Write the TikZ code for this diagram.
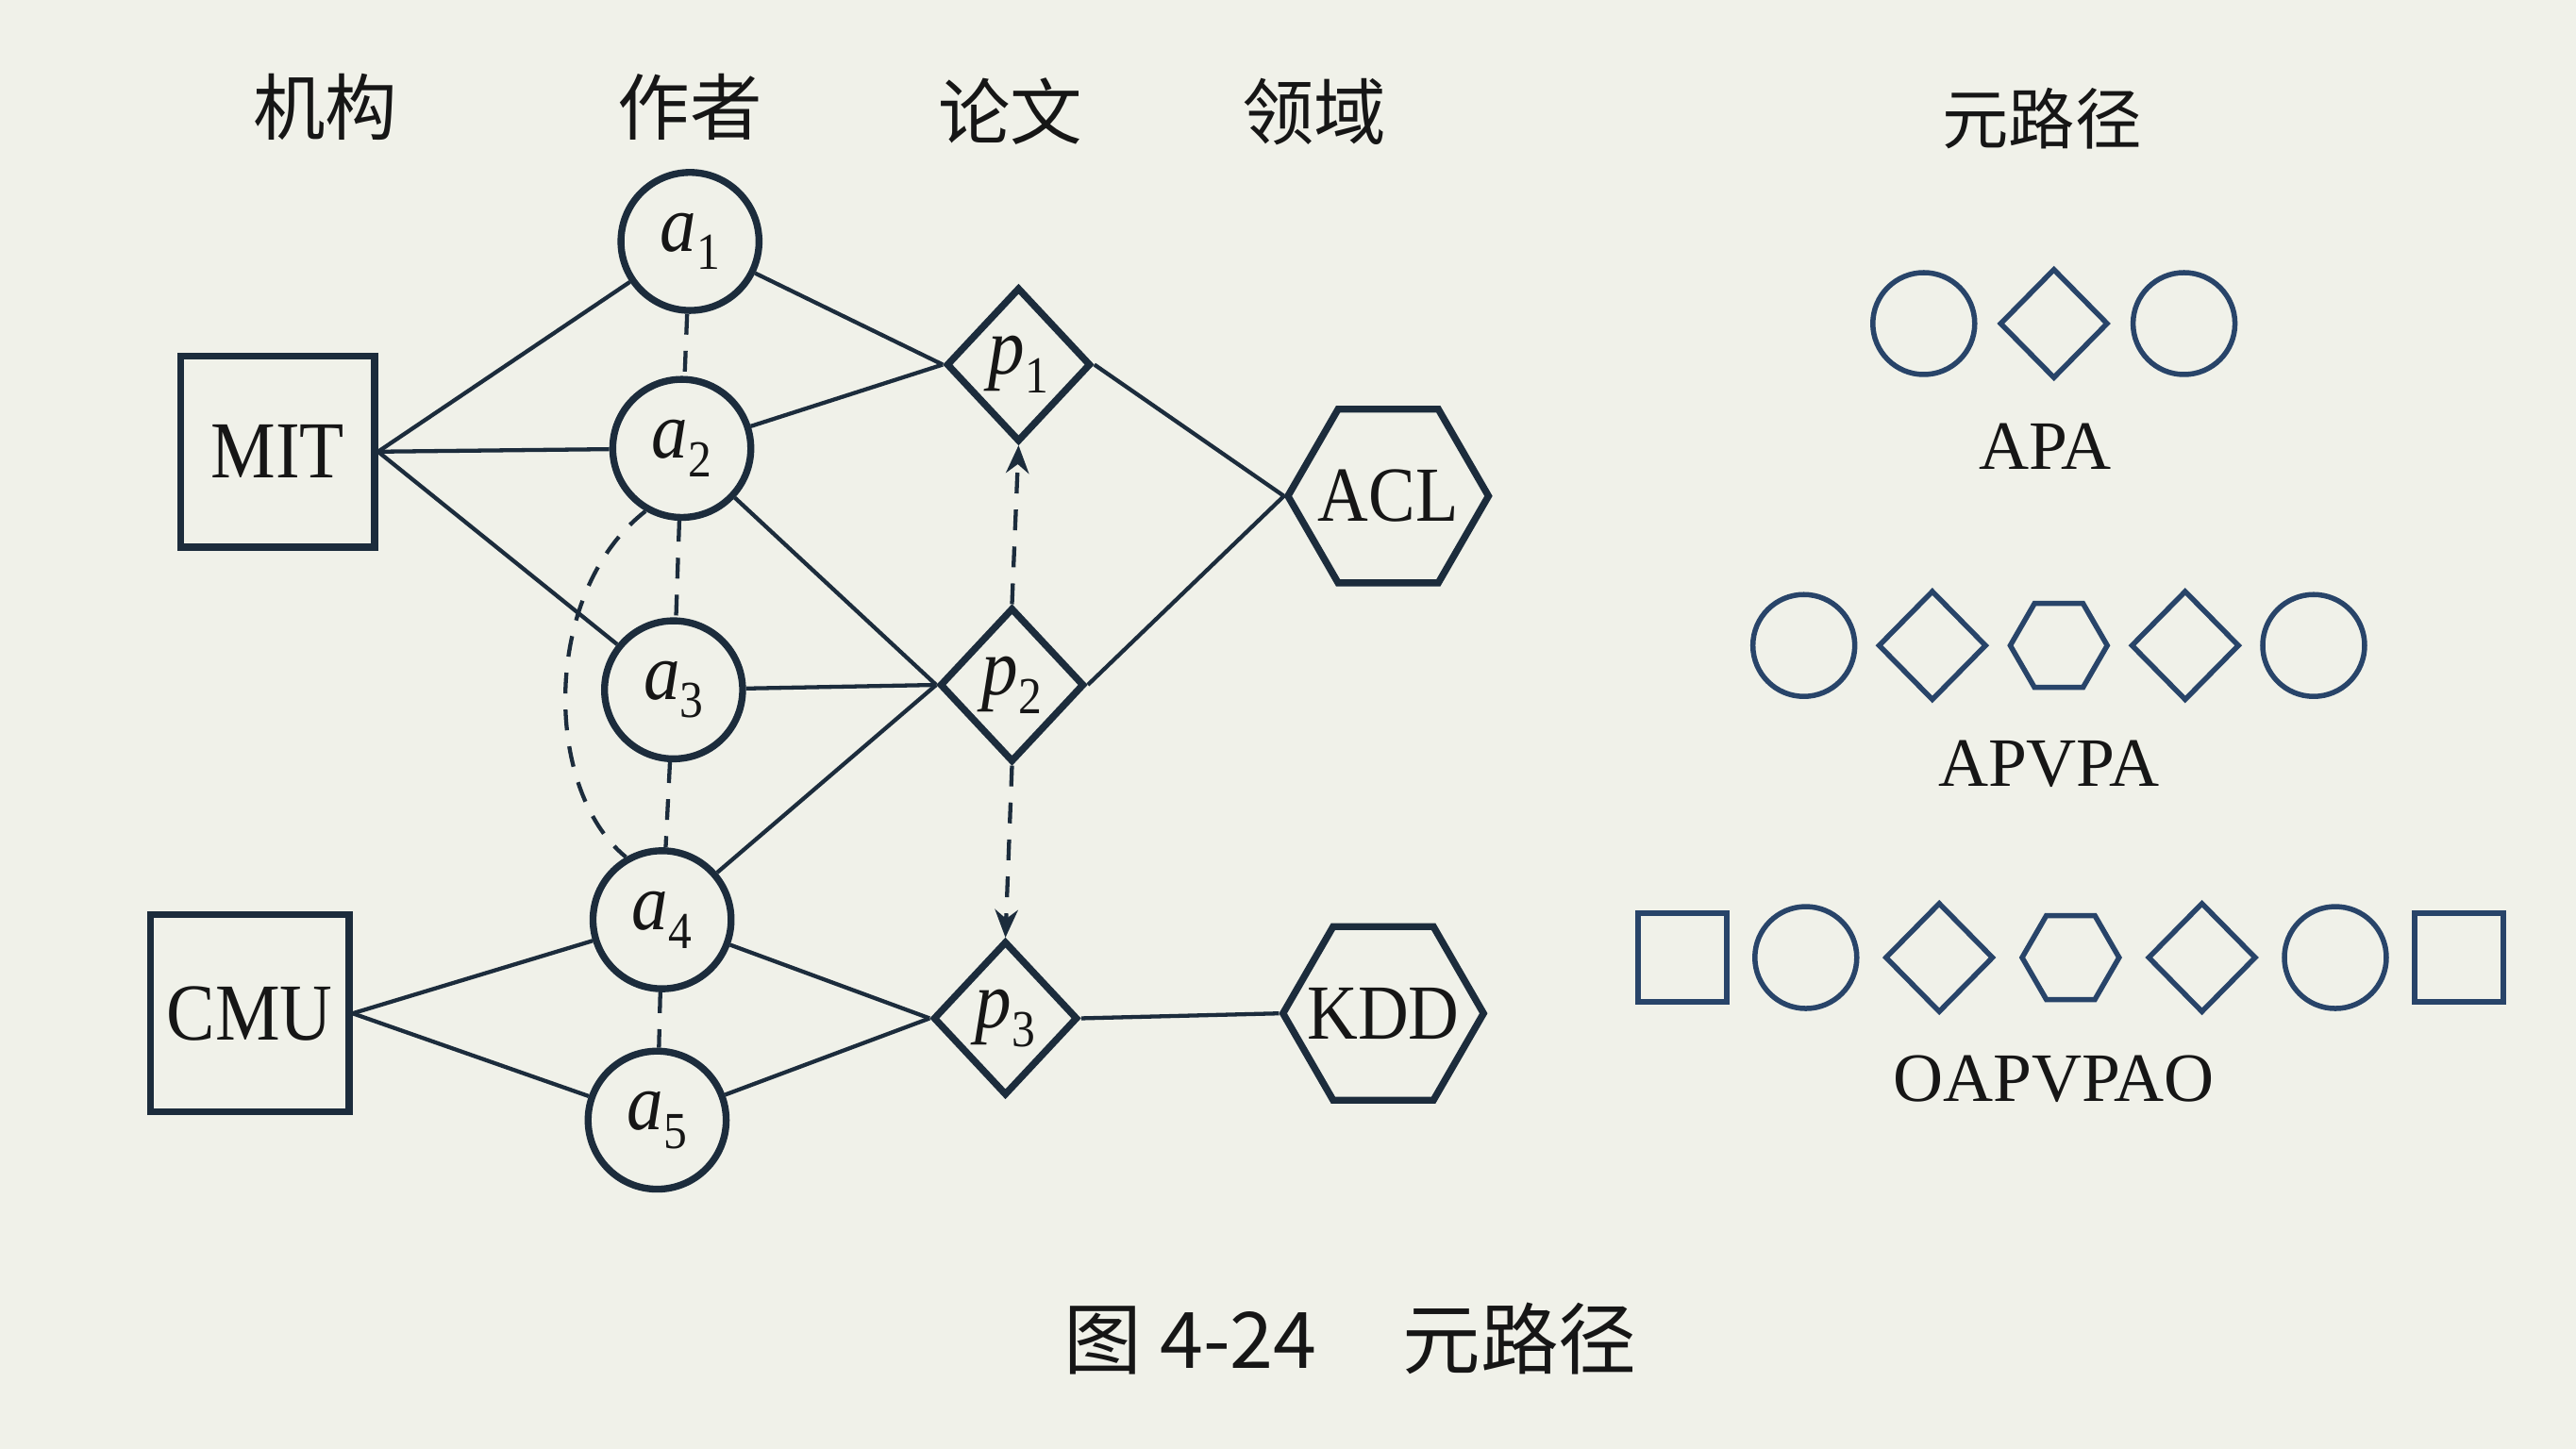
\documentclass[tikz,border=0pt]{standalone}
\usepackage{fontspec}
\setmainfont{Liberation Serif}
\newfontfamily\cjk{Noto Sans CJK SC}
\newfontfamily\labfont[FakeStretch=0.9]{Liberation Serif}
\usetikzlibrary{positioning,arrows.meta,shapes.geometric}
\definecolor{bgpaper}{RGB}{240,241,233}
\definecolor{ink}{RGB}{28,44,60}
\definecolor{pathink}{RGB}{40,68,105}
\definecolor{txt}{RGB}{22,22,22}
\newcommand{\ent}[2]{{\itshape #1}\raisebox{-0.5ex}{\fontsize{9}{9}\selectfont #2}}

\begin{document}
\begin{tikzpicture}[x=0.01cm,y=-0.01cm,>={Stealth[length=1.7mm,width=1.4mm]},node distance=0.12cm,
  nodetext/.style={text=txt,font=\labfont\fontsize{14}{16}\selectfont},
  author/.style={circle,draw=ink,line width=1.2pt,minimum size=0.84cm,inner sep=0pt,nodetext},
  org/.style={rectangle,draw=ink,line width=1.2pt,minimum width=1.18cm,minimum height=1.16cm,inner sep=0pt,nodetext},
  paperbox/.style={diamond,draw=ink,line width=1.2pt,minimum width=0.88cm,minimum height=0.94cm,inner sep=0pt,nodetext},
  venue/.style={regular polygon,regular polygon sides=6,draw=ink,line width=1.2pt,minimum size=1.22cm,inner sep=0pt,
    label={[nodetext,font=\labfont\fontsize{13.5}{16}\selectfont]center:#1}},
  link/.style={draw=ink,line width=0.7pt},
  dashlink/.style={draw=ink,line width=0.7pt,dash pattern=on 3.6pt off 2.8pt},
  header/.style={text=txt,font=\cjk\fontsize{12.5}{14}\selectfont},
  mo/.style={circle,draw=pathink,line width=0.9pt,minimum size=0.62cm,inner sep=0pt},
  md/.style={diamond,draw=pathink,line width=0.9pt,minimum width=0.66cm,minimum height=0.67cm,inner sep=0pt},
  mv/.style={regular polygon,regular polygon sides=6,draw=pathink,line width=0.9pt,minimum size=0.59cm,inner sep=0pt},
  ms/.style={rectangle,draw=pathink,line width=0.9pt,minimum size=0.54cm,inner sep=0pt},
  pathlab/.style={text=txt,font=\fontsize{12}{14}\selectfont}]
\fill[bgpaper] (0,0) rectangle (1568,882);
\useasboundingbox (0,0) rectangle (1568,882);

% column headers
\node[header] (horg) at (198,65) {机构};
\node[header] (haut) at (420,65) {作者};
\node[header] (hpap) at (615,68) {论文};
\node[header] (hven) at (800,68) {领域};
\node[header,font=\cjk\fontsize{11.5}{14}\selectfont] (hmeta) at (1243,72) {元路径};

% network
\node[org] (mit) at (169,275) {MIT};
\node[org,minimum width=1.21cm,minimum height=1.2cm] (cmu) at (152,617) {CMU};
\node[author] (a1) at (420,147) {\ent{a}{1}};
\node[author] (a2) at (415,273) {\ent{a}{2}};
\node[author] (a3) at (410,420) {\ent{a}{3}};
\node[author] (a4) at (403,560) {\ent{a}{4}};
\node[author] (a5) at (400,682) {\ent{a}{5}};
\node[paperbox] (p1) at (620,222) {\ent{p}{1}};
\node[paperbox] (p2) at (616,417) {\ent{p}{2}};
\node[paperbox] (p3) at (612,620) {\ent{p}{3}};
\node[venue=ACL] (acl) at (845,302) {};
\node[venue=KDD] (kdd) at (842,617) {};

\draw[link] (mit.east) -- (a1);
\draw[link] (mit.east) -- (a2);
\draw[link] (mit.east) -- (a3);
\draw[link] (cmu.east) -- (a4);
\draw[link] (cmu.east) -- (a5);
\draw[link] (a1) -- (p1.west);
\draw[link] (a2) -- (p1.west);
\draw[link] (a2) -- (p2.west);
\draw[link] (a3) -- (p2.west);
\draw[link] (a4) -- (p2.west);
\draw[link] (a4) -- (p3.west);
\draw[link] (a5) -- (p3.west);
\draw[link] (p1.east) -- (acl.west);
\draw[link] (p2.east) -- (acl.west);
\draw[link] (p3.east) -- (kdd.west);

% co-author and citation links
\draw[dashlink] (a1) -- (a2);
\draw[dashlink] (a2) -- (a3);
\draw[dashlink] (a3) -- (a4);
\draw[dashlink] (a4) -- (a5);
\draw[dashlink] (a2.240) .. controls (330,360) and (330,480) .. (a4.120);
\draw[dashlink,->] (p2.north) -- (p1.south);
\draw[dashlink,->] (p2.south) -- (p3.north);

% meta-paths
\node[mo] (r1a) at (1171,197) {};
\node[md,right=of r1a] (r1b) {};
\node[mo,right=of r1b] (r1c) {};
\node[pathlab] (apa) at (1245,272) {APA};

\begin{scope}[node distance=0.11cm]
\node[mo] (r2a) at (1098,393) {};
\node[md,right=of r2a] (r2b) {};
\node[mv,right=of r2b] (r2c) {};
\node[md,right=of r2c] (r2d) {};
\node[mo,right=of r2d] (r2e) {};
\end{scope}
\node[pathlab] (apvpa) at (1247,465) {APVPA};

\begin{scope}[node distance=0.14cm]
\node[ms] (r3a) at (1024,583) {};
\node[mo,right=of r3a] (r3b) {};
\node[md,right=of r3b] (r3c) {};
\node[mv,right=of r3c] (r3d) {};
\node[md,right=of r3d] (r3e) {};
\node[mo,right=of r3e] (r3f) {};
\node[ms,right=of r3f] (r3g) {};
\end{scope}
\node[pathlab] (oapvpao) at (1250,657) {OAPVPAO};

\node[text=txt,font=\cjk\fontsize{13.5}{15}\selectfont] (cap) at (822,815) {图 4-24\hspace{1.1em}元路径};
\end{tikzpicture}
\end{document}
